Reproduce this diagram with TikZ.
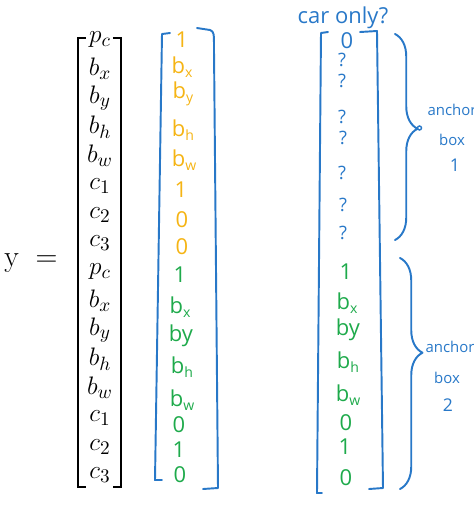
\documentclass[tikz,border=0pt]{standalone}
\usepackage{amsmath}
\usepackage{fontspec}
\usetikzlibrary{decorations.pathreplacing}
\newfontfamily\handfont{Open Sans}
\definecolor{penblue}{RGB}{40,120,200}
\definecolor{penorange}{RGB}{245,180,20}
\definecolor{pengreen}{RGB}{30,170,75}
\newcommand{\hb}[1]{b\raisebox{-0.3ex}{\footnotesize #1}}
\tikzset{
    every node/.style={inner sep=0mm},
    entry/.style={font=\fontsize{15}{17}\selectfont},
    hand/.style={font=\handfont\fontsize{12.5}{14}\selectfont},
    yel/.style={hand, text=penorange},
    grn/.style={hand, text=pengreen},
    blu/.style={hand, text=penblue},
    qmark/.style={blu, font=\handfont\fontsize{10.5}{12}\selectfont}
}
\tikzset{pen/.style={draw=penblue, line width=1.1pt, line cap=round, line join=round}}

\begin{document}
\begin{tikzpicture}
        \useasboundingbox (0cm, 0cm) rectangle (9.48cm, -10.12cm);
        % the label vector
        \node (y) [entry, font=\fontsize{17}{19}\selectfont] at (0.62cm, -5.26cm) {$\mathrm{y}\;=$};
        \node (e0) [entry] at (2.000000cm, -0.800000cm) {$p_c$};
        \node (e1) [entry] at (2.000000cm, -1.380000cm) {$b_x$};
        \node (e2) [entry] at (2.000000cm, -1.960000cm) {$b_y$};
        \node (e3) [entry] at (2.000000cm, -2.540000cm) {$b_h$};
        \node (e4) [entry] at (2.000000cm, -3.120000cm) {$b_w$};
        \node (e5) [entry] at (2.000000cm, -3.720000cm) {$c_1$};
        \node (e6) [entry] at (2.000000cm, -4.300000cm) {$c_2$};
        \node (e7) [entry] at (2.000000cm, -4.860000cm) {$c_3$};
        \node (e8) [entry] at (2.000000cm, -5.440000cm) {$p_c$};
        \node (e9) [entry] at (2.000000cm, -6.020000cm) {$b_x$};
        \node (e10) [entry] at (2.000000cm, -6.600000cm) {$b_y$};
        \node (e11) [entry] at (2.000000cm, -7.180000cm) {$b_h$};
        \node (e12) [entry] at (2.000000cm, -7.760000cm) {$b_w$};
        \node (e13) [entry] at (2.000000cm, -8.360000cm) {$c_1$};
        \node (e14) [entry] at (2.000000cm, -8.940000cm) {$c_2$};
        \node (e15) [entry] at (2.000000cm, -9.500000cm) {$c_3$};
        \draw [line width=1.1pt] (1.720000cm, -0.760000cm) -- (1.560000cm, -0.760000cm) -- (1.560000cm, -9.740000cm) -- (1.720000cm, -9.740000cm);
        \draw [line width=1.1pt] (2.260000cm, -0.760000cm) -- (2.420000cm, -0.760000cm) -- (2.420000cm, -9.740000cm) -- (2.260000cm, -9.740000cm);
        % first example: car in anchor box 1
        \node (a0) [yel] at (3.640000cm, -0.800000cm) {1};
        \node (a1) [yel] at (3.640000cm, -1.340000cm) {\hb{x}};
        \node (a2) [yel] at (3.660000cm, -1.880000cm) {\hb{y}};
        \node (a3) [yel] at (3.660000cm, -2.600000cm) {\hb{h}};
        \node (a4) [yel] at (3.680000cm, -3.200000cm) {\hb{w}};
        \node (a5) [yel] at (3.620000cm, -3.800000cm) {1};
        \node (a6) [yel] at (3.640000cm, -4.400000cm) {0};
        \node (a7) [yel] at (3.640000cm, -4.940000cm) {0};
        \node (g0) [grn] at (3.600000cm, -5.500000cm) {1};
        \node (g1) [grn] at (3.600000cm, -6.140000cm) {\hb{x}};
        \node (g2) [grn] at (3.620000cm, -6.720000cm) {by};
        \node (g3) [grn] at (3.640000cm, -7.340000cm) {\hb{h}};
        \node (g4) [grn] at (3.640000cm, -8.000000cm) {\hb{w}};
        \node (g5) [grn] at (3.580000cm, -8.500000cm) {0};
        \node (g6) [grn] at (3.580000cm, -9.000000cm) {1};
        \node (g7) [grn] at (3.600000cm, -9.500000cm) {0};
        \draw [pen] (3.400000cm, -0.660000cm) -- (3.240000cm, -0.680000cm) -- (3.100000cm, -9.600000cm) -- (3.240000cm, -9.600000cm);
        \draw [pen] (3.940000cm, -0.560000cm) -- (4.200000cm, -0.600000cm) .. controls (4.280000cm, -0.640000cm) .. (4.280000cm, -1.000000cm) -- (4.360000cm, -9.760000cm) -- (4.060000cm, -9.780000cm);
        % second example: car only
        \node (car) [blu, font=\handfont\fontsize{12.5}{14}\selectfont] at (6.860000cm, -0.360000cm) {car only?};
        \node (q0) [blu] at (6.940000cm, -0.820000cm) {0};
        \node (q1) [qmark] at (6.840000cm, -1.200000cm) {?};
        \node (q2) [qmark] at (6.840000cm, -1.620000cm) {?};
        \node (q3) [qmark] at (6.840000cm, -2.340000cm) {?};
        \node (q4) [qmark] at (6.860000cm, -2.760000cm) {?};
        \node (q5) [qmark] at (6.840000cm, -3.460000cm) {?};
        \node (q6) [qmark] at (6.860000cm, -4.100000cm) {?};
        \node (q7) [qmark] at (6.860000cm, -4.660000cm) {?};
        \node (h0) [grn] at (6.920000cm, -5.440000cm) {1};
        \node (h1) [grn] at (6.940000cm, -6.060000cm) {\hb{x}};
        \node (h2) [grn] at (6.960000cm, -6.600000cm) {by};
        \node (h3) [grn] at (6.960000cm, -7.240000cm) {\hb{h}};
        \node (h4) [grn] at (6.960000cm, -7.900000cm) {\hb{w}};
        \node (h5) [grn] at (6.920000cm, -8.460000cm) {0};
        \node (h6) [grn] at (6.900000cm, -8.940000cm) {1};
        \node (h7) [grn] at (6.920000cm, -9.560000cm) {0};
        \draw [pen] (6.560000cm, -0.640000cm) -- (6.420000cm, -0.660000cm) -- (6.340000cm, -9.860000cm) -- (6.440000cm, -9.860000cm);
        \draw [pen] (7.200000cm, -0.640000cm) -- (7.540000cm, -0.620000cm) -- (7.660000cm, -9.760000cm) -- (7.380000cm, -9.780000cm);
        % braces for the two anchor boxes
        \coordinate (b1t) at (7.900000cm, -0.680000cm);
        \coordinate (b1b) at (7.900000cm, -4.800000cm);
        \coordinate (b2t) at (8.000000cm, -5.160000cm);
        \coordinate (b2b) at (8.000000cm, -9.780000cm);
        \draw [pen, decorate, decoration={brace, amplitude=0.45cm, aspect=0.46}] (b1t) -- (b1b);
        \draw [pen, decorate, decoration={brace, amplitude=0.45cm, aspect=0.41}] (b2t) -- (b2b);
        \draw [penblue, line width=0.8pt] (8.390000cm, -2.560000cm) circle (0.04cm);
        \node (an1) [blu, font=\handfont\fontsize{8.5}{10}\selectfont] at (9.040000cm, -2.200000cm) {anchor};
        \node (bx1) [blu, font=\handfont\fontsize{8.5}{10}\selectfont] at (9.040000cm, -2.800000cm) {box};
        \node (n1) [blu, font=\handfont\fontsize{10}{12}\selectfont] at (9.100000cm, -3.300000cm) {1};
        \node (an2) [blu, font=\handfont\fontsize{8.5}{10}\selectfont] at (9.000000cm, -6.940000cm) {anchor};
        \node (bx2) [blu, font=\handfont\fontsize{8.5}{10}\selectfont] at (8.940000cm, -7.560000cm) {box};
        \node (n2) [blu, font=\handfont\fontsize{10}{12}\selectfont] at (8.960000cm, -8.100000cm) {2};
\end{tikzpicture}
\end{document}
